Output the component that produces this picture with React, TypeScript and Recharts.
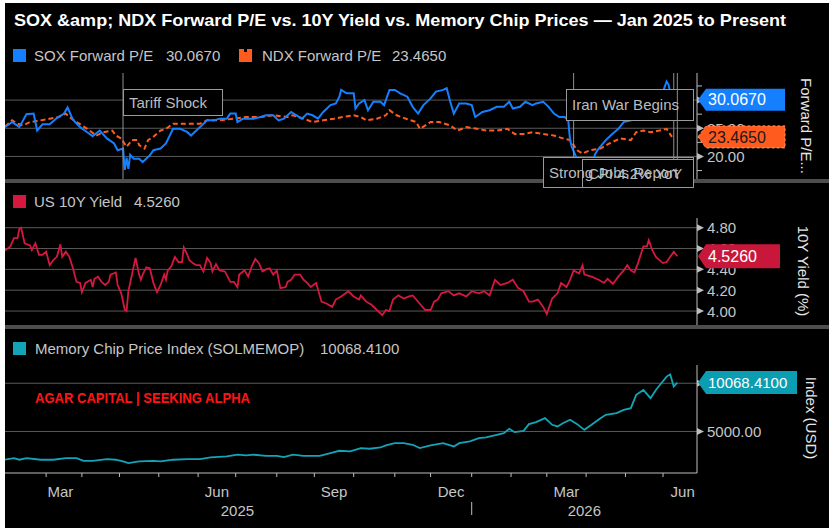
import React from 'react';
import { LineChart, Line, XAxis, YAxis, ReferenceLine } from 'recharts';

const FONT = '"Liberation Sans", Arial, sans-serif';

// x values are trading-day numbers (weekdays) counted from 1 Jan 2025
const soxDay = [
  0, 4, 8, 12, 16, 18, 21, 25, 29, 33,
  35, 38, 42, 46, 49, 53, 57, 61, 63, 66,
  67, 68, 69, 70, 72, 75, 77, 81, 83, 87,
  90, 94, 98, 102, 104, 107, 110, 113, 117, 120,
  124, 126, 129, 130, 133, 139, 143, 146, 150, 153,
  156, 160, 163, 166, 169, 172, 175, 178, 182, 185,
  187, 188, 191, 195, 196, 198, 201, 203, 206, 210,
  212, 215, 218, 221, 225, 228, 231, 234, 238, 241,
  245, 247, 249, 251, 254, 258, 261, 263, 267, 271,
  275, 279, 282, 284, 288, 291, 295, 297, 301, 304,
  307, 310, 313, 315, 316, 317, 319, 320, 323, 326,
  328, 330, 332, 336, 339, 343, 346, 350, 353, 357,
  361, 365, 368, 370, 371, 373,
];
const soxPE = [
  25.2, 26.1, 25.2, 27.5, 27.6, 24.6, 25.7, 25.7, 26.8, 27.6,
  28.7, 26.5, 25.2, 24.3, 23.6, 24.6, 23.2, 22.3, 21.1, 21.4,
  17.6, 19.8, 17.8, 20.3, 19.6, 19.6, 19.0, 20.2, 21.1, 21.4,
  22.3, 24.9, 24.9, 24.3, 23.7, 24.6, 25.5, 26.4, 26.4, 26.7,
  26.7, 27.6, 27.6, 26.1, 26.7, 26.7, 27.0, 27.3, 27.3, 26.4,
  26.7, 27.9, 27.3, 26.7, 27.6, 27.3, 26.7, 27.9, 29.1, 29.4,
  30.6, 31.8, 31.2, 31.2, 28.5, 29.4, 30.0, 28.2, 29.7, 29.7,
  29.1, 31.8, 31.8, 31.2, 30.6, 28.8, 27.6, 29.1, 30.3, 31.5,
  31.8, 32.1, 29.7, 27.6, 29.4, 29.4, 29.1, 27.0, 27.9, 28.2,
  28.8, 28.8, 29.7, 28.5, 28.8, 29.7, 29.1, 29.4, 29.7, 28.8,
  27.6, 27.0, 27.0, 26.4, 22.9, 21.7, 20.2, 19.5, 18.0, 17.6,
  18.5, 20.4, 21.4, 22.9, 23.8, 24.9, 26.1, 26.4, 27.5, 28.5,
  29.5, 30.5, 31.5, 33.3, 32.8, 30.067,
];

const ndxDay = [
  0, 4, 7, 10, 14, 20, 25, 30, 34, 36,
  40, 46, 51, 55, 60, 62, 65, 68, 71, 74,
  75, 78, 80, 83, 87, 90, 94, 102, 109, 113,
  120, 128, 135, 143, 150, 158, 161, 167, 172, 178,
  184, 189, 195, 199, 202, 208, 213, 215, 219, 225,
  230, 232, 238, 243, 249, 253, 258, 264, 269, 275,
  281, 285, 290, 295, 301, 307, 312, 316, 320, 323,
  327, 333, 338, 344, 350, 353, 357, 361, 366, 370,
  373,
];
const ndxPE = [
  25.3, 26.4, 25.8, 25.5, 26.1, 26.4, 26.7, 27.0, 27.6, 27.0,
  26.1, 24.9, 23.7, 24.3, 24.6, 23.7, 23.2, 21.7, 22.9, 22.9,
  22.0, 21.4, 22.9, 23.5, 24.6, 24.9, 25.8, 25.8, 25.8, 26.4,
  26.4, 26.7, 27.0, 27.0, 27.3, 27.0, 27.3, 26.7, 26.1, 26.4,
  26.7, 27.0, 27.3, 27.0, 26.4, 26.7, 27.3, 28.2, 27.3, 26.6,
  26.1, 24.9, 26.1, 26.1, 25.5, 24.6, 25.2, 24.9, 24.6, 24.6,
  24.9, 24.0, 24.0, 24.3, 24.0, 23.7, 23.2, 22.9, 21.1, 20.5,
  21.1, 21.4, 22.3, 23.2, 22.9, 24.3, 24.6, 24.3, 24.6, 24.9,
  23.465,
];

const ustDay = [
  0, 3, 5, 7, 8, 9, 11, 14, 15, 17,
  19, 21, 23, 25, 27, 29, 31, 32, 34, 36,
  38, 40, 42, 43, 45, 48, 49, 50, 52, 54,
  56, 58, 59, 62, 63, 65, 67, 68, 69, 71,
  73, 75, 76, 77, 79, 81, 83, 85, 87, 89,
  90, 91, 93, 95, 97, 99, 100, 102, 103, 105,
  107, 109, 111, 113, 115, 116, 118, 120, 123, 126,
  128, 130, 131, 134, 136, 138, 140, 142, 144, 146,
  148, 150, 152, 154, 157, 158, 160, 162, 165, 167,
  169, 171, 174, 177, 180, 183, 185, 188, 192, 195,
  198, 199, 202, 205, 208, 211, 213, 215, 217, 220,
  223, 226, 228, 232, 235, 238, 240, 242, 244, 248,
  251, 254, 258, 261, 265, 268, 271, 274, 277, 281,
  284, 287, 290, 293, 295, 298, 301, 303, 306, 309,
  311, 314, 316, 318, 321, 323, 324, 328, 332, 335,
  337, 340, 343, 346, 348, 350, 352, 354, 357, 359,
  360, 362, 364, 368, 370, 372, 374, 376,
];
const ust10y = [
  4.58, 4.62, 4.70, 4.70, 4.79, 4.80, 4.65, 4.63, 4.585, 4.65,
  4.54, 4.54, 4.57, 4.44, 4.49, 4.52, 4.64, 4.52, 4.57, 4.52,
  4.41, 4.28, 4.27, 4.18, 4.27, 4.30, 4.23, 4.31, 4.33, 4.28,
  4.25, 4.28, 4.35, 4.37, 4.25, 4.17, 4.01, 4.00, 4.19, 4.35,
  4.51, 4.35, 4.30, 4.35, 4.42, 4.41, 4.27, 4.18, 4.25, 4.35,
  4.30, 4.39, 4.43, 4.52, 4.47, 4.47, 4.61, 4.54, 4.49, 4.46,
  4.44, 4.44, 4.38, 4.51, 4.46, 4.38, 4.45, 4.39, 4.38, 4.28,
  4.28, 4.23, 4.35, 4.39, 4.33, 4.43, 4.50, 4.46, 4.38, 4.40,
  4.41, 4.35, 4.39, 4.22, 4.23, 4.28, 4.30, 4.35, 4.35, 4.30,
  4.27, 4.23, 4.27, 4.09, 4.07, 4.04, 4.11, 4.14, 4.19, 4.14,
  4.11, 4.15, 4.09, 4.06, 4.01, 3.96, 4.01, 4.00, 4.11, 4.15,
  4.12, 4.14, 4.15, 4.07, 4.01, 4.01, 4.09, 4.11, 4.17, 4.19,
  4.15, 4.17, 4.14, 4.19, 4.17, 4.19, 4.15, 4.30, 4.25, 4.27,
  4.30, 4.22, 4.19, 4.09, 4.09, 4.11, 4.04, 3.97, 4.12, 4.17,
  4.27, 4.23, 4.30, 4.39, 4.36, 4.44, 4.35, 4.33, 4.30, 4.27,
  4.31, 4.26, 4.33, 4.39, 4.44, 4.39, 4.37, 4.46, 4.62, 4.62,
  4.68, 4.585, 4.52, 4.46, 4.47, 4.52, 4.57, 4.526,
];

const memDay = [
  0, 5, 8, 12, 20, 27, 34, 40, 44, 49,
  57, 62, 66, 69, 75, 83, 87, 94, 102, 109,
  115, 124, 130, 135, 139, 146, 152, 156, 161, 167,
  176, 182, 187, 193, 199, 204, 210, 213, 218, 223,
  228, 232, 238, 245, 251, 254, 260, 265, 269, 275,
  279, 282, 285, 290, 293, 297, 302, 306, 309, 312,
  316, 320, 324, 328, 333, 336, 342, 346, 350, 353,
  357, 361, 364, 367, 370, 372, 374, 376,
];
const memPrice = [
  2070, 2240, 2070, 2240, 2070, 2070, 2240, 2240, 1960, 1960,
  2140, 2070, 1900, 1720, 1900, 1960, 1900, 2070, 2140, 2140,
  2310, 2410, 2590, 2520, 2590, 2480, 2480, 2340, 2590, 2480,
  2480, 2760, 3000, 2930, 3280, 3210, 3340, 3550, 3790, 3790,
  3620, 3280, 3550, 3790, 3450, 3790, 3970, 4310, 4380, 4660,
  4830, 5280, 4930, 5070, 5760, 5970, 6380, 5690, 5520, 5860,
  6210, 5760, 5170, 5690, 6380, 6730, 6900, 7240, 7420, 8800,
  9310, 8450, 9310, 10000, 10690, 10930, 9660, 10068.41,
];

const monthStartDay = [23, 43, 64, 86, 108, 129, 152, 173, 195, 218, 238, 261, 283, 303, 325, 347, 368];
const monthLabelDay = [31, 118.5, 184, 249.5, 314, 379];
const monthLabelText = ['Mar', 'Jun', 'Sep', 'Dec', 'Mar', 'Jun'];
const yearLabelDay = [130, 324];
const yearLabelText = ['2025', '2026'];
const yearBreakDay = 261;

const eventDay = [66, 318, 374, 376];
const eventText = ['Tariff Shock', 'Strong Jobs Report', 'Iran War Begins', 'CPI 4.2% YoY'];

const peTicks = [17.5, 20, 22.5, 25, 27.5, 30, 32.5];
const peMajor = [20, 25, 30];
const ustTicks = [4.0, 4.2, 4.4, 4.6, 4.8];
const memTicks = [5000, 10000];

// ---------- layout / style ----------
const W = 829;
const YW = 132;
const PLOT_RIGHT = W - YW;
const X_DOMAIN: [number, number] = [0, 387];
const PE_DOMAIN: [number, number] = [16.0, 34.8];
const UST_DOMAIN: [number, number] = [3.866, 4.893];
const MEM_DOMAIN: [number, number] = [694, 11894];
const eventBox = [
  { w: 99, top: 16, h: 26 },
  { w: 150, top: 84, h: 30 },
  { w: 127, top: 16, h: 31 },
  { w: 111, top: 86, h: 28 },
];
const C_BLUE = '#1480ff';
const C_ORANGE = '#ff5b1f';
const C_RED = '#d4183f';
const C_TEAL = '#14a4b8';
const GRID = '#595959';
const AXIS = '#bdbdbd';
const TXT = '#c6c6c6';

const zip = (d: number[], v: number[]) => d.map((x, i) => ({ d: x, v: v[i] }));
const soxData = zip(soxDay, soxPE);
const ndxData = zip(ndxDay, ndxPE);
const ustData = zip(ustDay, ust10y);
const memData = zip(memDay, memPrice);
const last = (a: number[]) => a[a.length - 1];

function YTick(props: any) {
  const { x, y, payload, major } = props;
  const v = payload.value as number;
  const isMajor = (major as number[]).some((m) => Math.abs(m - v) < 1e-9);
  if (!isMajor) return <line x1={x} x2={x + 5} y1={y} y2={y} stroke={AXIS} />;
  return (
    <g>
      <path d={`M${x},${y - 3.5}L${x + 7},${y}L${x},${y + 3.5}Z`} fill={AXIS} />
      <text x={x + 10} y={y + 5.5} fill={TXT} fontSize={15} fontFamily={FONT}>
        {v.toFixed(2)}
      </text>
    </g>
  );
}

function ValueTag(props: any) {
  const { viewBox, text, fill, color, w, h, fs, dashed } = props;
  if (!viewBox) return null;
  const tip = viewBox.x + viewBox.width + 1;
  const y = viewBox.y;
  const b = tip + 8;
  const d = `M${tip},${y}L${b},${y - h / 2}L${b + w},${y - h / 2}L${b + w},${y + h / 2}L${b},${y + h / 2}Z`;
  return (
    <g>
      <path d={d} fill={fill} stroke={dashed ? '#ff9a66' : 'none'} strokeDasharray={dashed ? '3 2' : undefined} />
      <text x={b + 2} y={y + fs * 0.36} fill={color} fontSize={fs} fontFamily={FONT}>
        {text}
      </text>
    </g>
  );
}

function EventBox(props: any) {
  const { viewBox, box } = props;
  if (!viewBox) return null;
  const left = Math.min(viewBox.x, PLOT_RIGHT - 4 - box.w);
  const y0 = viewBox.y + box.top;
  return <rect x={left + 0.5} y={y0 + 0.5} width={box.w} height={box.h} fill="#000" stroke="#9a9a9a" />;
}

function EventText(props: any) {
  const { viewBox, text, box } = props;
  if (!viewBox) return null;
  const left = Math.min(viewBox.x, PLOT_RIGHT - 4 - box.w);
  const y0 = viewBox.y + box.top;
  return (
    <text x={left + 6} y={y0 + box.h / 2 + 5.5} fill="#bcbcbc" fontSize={15} fontFamily={FONT}>
      {text}
    </text>
  );
}

function XTick(props: any) {
  const { x, y, payload } = props;
  const v = payload.value as number;
  const parts: React.ReactNode[] = [];
  if (monthStartDay.includes(v)) parts.push(<line key="t" x1={x} x2={x} y1={y} y2={y + 4} stroke={AXIS} />);
  const mi = monthLabelDay.indexOf(v);
  if (mi >= 0)
    parts.push(
      <text key="m" x={x} y={y + 24} textAnchor="middle" fill={TXT} fontSize={15} fontFamily={FONT}>
        {monthLabelText[mi]}
      </text>
    );
  const yi = yearLabelDay.indexOf(v);
  if (yi >= 0)
    parts.push(
      <text key="y" x={x} y={y + 42.5} textAnchor="middle" fill={TXT} fontSize={15} fontFamily={FONT}>
        {yearLabelText[yi]}
      </text>
    );
  if (v === yearBreakDay) parts.push(<line key="b" x1={x} x2={x} y1={y + 29} y2={y + 42} stroke={AXIS} />);
  return <g>{parts}</g>;
}

const allXTicks = Array.from(new Set([...monthStartDay, ...monthLabelDay, ...yearLabelDay, yearBreakDay])).sort((a, b) => a - b);

function Background() {
  return (
    <svg width={W} height={528} style={{ position: 'absolute', left: 0, top: 0 }}>
      <rect x={0} y={0} width={W} height={528} fill="#fff" />
      <rect x={5} y={3} width={W - 5} height={525} fill="#000" />
      <rect x={5} y={179} width={W - 5} height={4} fill="#4d4d4d" />
      <rect x={5} y={325} width={W - 5} height={4} fill="#4d4d4d" />
      <text x={14} y={26} fill="#fff" fontSize={17} fontWeight="bold" fontFamily={FONT} textLength={772} lengthAdjust="spacingAndGlyphs">
        SOX &amp;amp; NDX Forward P/E vs. 10Y Yield vs. Memory Chip Prices — Jan 2025 to Present
      </text>
      <rect x={13} y={49} width={13} height={13} fill={C_BLUE} />
      <text x={34} y={60.5} fill={TXT} fontSize={15} fontFamily={FONT}>SOX Forward P/E</text>
      <text x={166} y={60.5} fill={TXT} fontSize={15} fontFamily={FONT}>{last(soxPE).toFixed(4)}</text>
      <rect x={239} y={49} width={13} height={13} fill={C_ORANGE} />
      <rect x={244} y={49} width={3} height={3} fill="#000" />
      <text x={262} y={60.5} fill={TXT} fontSize={15} fontFamily={FONT}>NDX Forward P/E</text>
      <text x={392} y={60.5} fill={TXT} fontSize={15} fontFamily={FONT}>{last(ndxPE).toFixed(4)}</text>
      <rect x={13} y={195} width={13} height={13} fill={C_RED} />
      <text x={34} y={206.5} fill={TXT} fontSize={15} fontFamily={FONT}>US 10Y Yield</text>
      <text x={134} y={206.5} fill={TXT} fontSize={15} fontFamily={FONT}>{last(ust10y).toFixed(4)}</text>
      <rect x={13} y={342} width={13} height={13} fill={C_TEAL} />
      <text x={35} y={353.5} fill={TXT} fontSize={15} fontFamily={FONT}>Memory Chip Price Index (SOLMEMOP)</text>
      <text x={320} y={353.5} fill={TXT} fontSize={15} fontFamily={FONT}>{last(memPrice).toFixed(4)}</text>
      <text x={35} y={403} fill="#ff1414" fontSize={14} fontWeight="bold" fontFamily={FONT} textLength={215} lengthAdjust="spacingAndGlyphs">
        AGAR CAPITAL | SEEKING ALPHA
      </text>
      <text x={806} y={126} transform="rotate(90 806 126)" textAnchor="middle" dominantBaseline="central" fill="#e6e6e6" fontSize={15} fontFamily={FONT}>
        Forward P/E...
      </text>
      <text x={803} y={271} transform="rotate(90 803 271)" textAnchor="middle" dominantBaseline="central" fill="#e6e6e6" fontSize={15} fontFamily={FONT}>
        10Y Yield (%)
      </text>
      <text x={811} y={418} transform="rotate(90 811 418)" textAnchor="middle" dominantBaseline="central" fill="#e6e6e6" fontSize={15} fontFamily={FONT}>
        Index (USD)
      </text>
    </svg>
  );
}

const abs = (top: number): React.CSSProperties => ({ position: 'absolute', left: 0, top });

export default function App() {
  return (
    <div style={{ position: 'absolute', left: 0, top: 0, width: W, height: 528, overflow: 'hidden', background: '#000' }}>
      <Background />
      {/* Panel 1: forward P/E */}
      <div style={abs(0)}>
        <LineChart width={W} height={200} margin={{ top: 73, right: 0, bottom: 21, left: 5 }}>
          <XAxis type="number" dataKey="d" domain={X_DOMAIN} hide allowDataOverflow />
          <YAxis
            orientation="right"
            type="number"
            domain={PE_DOMAIN}
            ticks={peTicks}
            interval={0}
            width={YW}
            allowDataOverflow
            tickLine={false}
            tickSize={0}
            tickMargin={0}
            axisLine={{ stroke: AXIS }}
            tick={<YTick major={peMajor} />}
          />
          {peMajor.map((g) => (
            <ReferenceLine key={g} y={g} stroke={GRID} />
          ))}
          <Line data={ndxData} dataKey="v" stroke={C_ORANGE} strokeWidth={2} strokeDasharray="5 3" dot={false} isAnimationActive={false} />
          <Line data={soxData} dataKey="v" stroke={C_BLUE} strokeWidth={2} dot={false} isAnimationActive={false} />
        </LineChart>
      </div>
      {/* Panel 1 overlay: events and last-value tags */}
      <div style={abs(0)}>
        <LineChart width={W} height={200} margin={{ top: 73, right: YW, bottom: 21, left: 5 }}>
          <XAxis type="number" dataKey="d" domain={X_DOMAIN} hide allowDataOverflow />
          <YAxis type="number" domain={PE_DOMAIN} hide allowDataOverflow />
          <Line data={soxData} dataKey="v" stroke="none" dot={false} isAnimationActive={false} />
          {eventDay.map((d, i) => (
            <ReferenceLine key={'e' + i} x={d} stroke="#8f8f8f" label={<EventBox box={eventBox[i]} />} />
          ))}
          {eventDay.map((d, i) => (
            <ReferenceLine key={'t' + i} x={d} stroke="none" label={<EventText text={eventText[i]} box={eventBox[i]} />} />
          ))}
          <ReferenceLine y={last(soxPE)} stroke="none" label={<ValueTag text={last(soxPE).toFixed(4)} fill={C_BLUE} color="#fff" w={79} h={22} fs={16} />} />
          <ReferenceLine y={last(ndxPE)} stroke="none" label={<ValueTag text={last(ndxPE).toFixed(4)} fill={C_ORANGE} color="#1a1a1a" w={79} h={22} fs={16} dashed />} />
        </LineChart>
      </div>
      {/* Panel 2: 10Y yield */}
      <div style={abs(185)}>
        <LineChart width={W} height={160} margin={{ top: 33, right: 0, bottom: 20, left: 5 }}>
          <XAxis type="number" dataKey="d" domain={X_DOMAIN} hide allowDataOverflow />
          <YAxis
            orientation="right"
            type="number"
            domain={UST_DOMAIN}
            ticks={ustTicks}
            interval={0}
            width={YW}
            allowDataOverflow
            tickLine={false}
            tickSize={0}
            tickMargin={0}
            axisLine={{ stroke: AXIS }}
            tick={<YTick major={ustTicks} />}
          />
          {ustTicks.map((g) => (
            <ReferenceLine key={g} y={g} stroke={GRID} />
          ))}
          <Line data={ustData} dataKey="v" stroke={C_RED} strokeWidth={1.8} dot={false} isAnimationActive={false} />
        </LineChart>
      </div>
      <div style={abs(185)}>
        <LineChart width={W} height={160} margin={{ top: 33, right: YW, bottom: 20, left: 5 }}>
          <XAxis type="number" dataKey="d" domain={X_DOMAIN} hide allowDataOverflow />
          <YAxis type="number" domain={UST_DOMAIN} hide allowDataOverflow />
          <Line data={ustData} dataKey="v" stroke="none" dot={false} isAnimationActive={false} />
          <ReferenceLine y={last(ust10y)} stroke="none" label={<ValueTag text={last(ust10y).toFixed(4)} fill="#c8173a" color="#fff" w={74} h={24} fs={16} />} />
        </LineChart>
      </div>
      {/* Panel 3: memory chip index */}
      <div style={abs(330)}>
        <LineChart width={W} height={198} margin={{ top: 35, right: 0, bottom: 0, left: 5 }}>
          <XAxis
            type="number"
            dataKey="d"
            domain={X_DOMAIN}
            allowDataOverflow
            ticks={allXTicks}
            interval={0}
            height={55}
            tickLine={false}
            tickSize={0}
            tickMargin={0}
            axisLine={{ stroke: AXIS }}
            tick={<XTick />}
          />
          <YAxis
            orientation="right"
            type="number"
            domain={MEM_DOMAIN}
            ticks={memTicks}
            interval={0}
            width={YW}
            allowDataOverflow
            tickLine={false}
            tickSize={0}
            tickMargin={0}
            axisLine={{ stroke: AXIS }}
            tick={<YTick major={memTicks} />}
          />
          {memTicks.map((g) => (
            <ReferenceLine key={g} y={g} stroke={GRID} />
          ))}
          <Line data={memData} dataKey="v" stroke={C_TEAL} strokeWidth={1.8} dot={false} isAnimationActive={false} />
        </LineChart>
      </div>
      <div style={abs(330)}>
        <LineChart width={W} height={198} margin={{ top: 35, right: YW, bottom: 55, left: 5 }}>
          <XAxis type="number" dataKey="d" domain={X_DOMAIN} hide allowDataOverflow />
          <YAxis type="number" domain={MEM_DOMAIN} hide allowDataOverflow />
          <Line data={memData} dataKey="v" stroke="none" dot={false} isAnimationActive={false} />
          <ReferenceLine y={last(memPrice)} stroke="none" label={<ValueTag text={last(memPrice).toFixed(4)} fill="#0b9db2" color="#fff" w={91} h={23} fs={15} />} />
        </LineChart>
      </div>
    </div>
  );
}
